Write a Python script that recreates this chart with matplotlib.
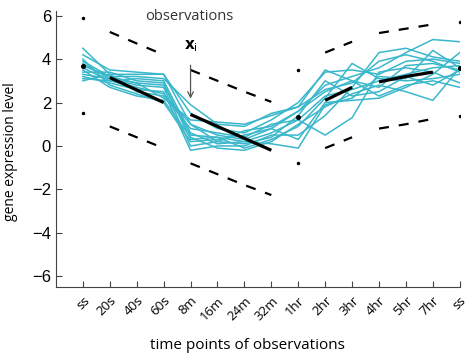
import matplotlib
matplotlib.use("Agg")
import matplotlib.pyplot as plt
import numpy as np

plt.rcParams["font.family"] = "Open Sans"

# time points
labels = ['ss', '20s', '40s', '60s', '8m', '16m', '24m', '32m',
          '1hr', '2hr', '3hr', '4hr', '5hr', '7hr', 'ss']
x = np.arange(len(labels))

# observed profiles (one row per gene)
obs = [
    [4.5, 3.3, 3.3, 3.3, 1.0, 0.5, 0.3, 0.8, 1.6, 2.8, 3.2, 3.6, 4.3, 4.9, 4.8],
    [4.2, 3.5, 3.4, 3.3, 1.5, 0.8, 0.6, 1.2, 2.0, 3.4, 3.5, 3.3, 3.9, 4.0, 3.8],
    [3.9, 3.2, 3.2, 3.1, 1.9, 1.0, 0.9, 1.5, 1.8, 2.6, 2.9, 3.9, 4.2, 3.9, 3.4],
    [3.6, 3.0, 3.1, 3.0, 0.6, 0.1, 0.2, 0.6, 1.2, 2.3, 2.6, 3.0, 3.3, 3.6, 3.7],
    [3.4, 3.4, 3.0, 2.9, 0.3, 0.4, -0.1, 0.3, 0.9, 2.2, 3.8, 3.1, 3.0, 3.1, 3.3],
    [3.3, 3.1, 2.8, 2.7, 0.0, 0.2, 0.1, 0.4, 1.4, 3.0, 2.3, 2.5, 3.2, 2.8, 3.5],
    [3.2, 2.9, 2.6, 2.5, -0.2, 0.0, 0.0, 0.5, 0.5, 1.4, 2.7, 4.3, 4.5, 4.1, 3.9],
    [3.0, 3.3, 2.5, 2.3, 0.8, 0.6, 0.4, 1.0, 1.2, 0.5, 1.3, 3.4, 3.6, 3.4, 2.9],
    [3.5, 2.7, 2.3, 2.1, 0.4, -0.1, -0.2, 0.2, 1.0, 1.8, 2.4, 2.8, 2.5, 2.1, 3.6],
    [3.7, 3.2, 2.9, 2.2, 1.2, 1.1, 1.0, 1.4, 1.8, 3.5, 3.0, 2.3, 2.8, 3.0, 2.7],
    [4.0, 2.8, 2.4, 2.0, 0.2, 0.3, 0.5, 0.8, 0.3, 2.0, 2.1, 2.2, 2.7, 3.3, 4.3],
    [3.1, 3.0, 2.7, 2.4, 1.0, 0.2, 0.7, 0.9, 1.6, 2.5, 3.0, 2.7, 3.7, 3.8, 3.5],
    [3.8, 3.1, 2.9, 2.8, 0.5, 0.4, 0.2, 0.1, -0.1, 1.9, 2.2, 3.2, 3.1, 4.4, 3.6],
]

# segments of the model (index ranges)
segments = [(0, 0), (1, 3), (4, 7), (8, 8), (9, 10), (11, 13), (14, 14)]
mean = [3.7, 3.15, 2.58, 2.0, 1.45, 0.9, 0.35, -0.2,
        1.35, 2.1, 2.7, 2.95, 3.2, 3.4, 3.6]
upper = [5.9, 5.25, 4.72, 4.2, 3.5, 3.0, 2.5, 2.03,
         3.5, 4.3, 4.8, 5.2, 5.4, 5.6, 5.7]
lower = [1.5, 0.9, 0.4, -0.1, -0.8, -1.3, -1.8, -2.26,
         -0.8, -0.1, 0.4, 0.8, 1.0, 1.25, 1.4]

fig = plt.figure(figsize=(4.74, 3.54), dpi=100)
ax = fig.add_axes([0.118, 0.189, 0.852, 0.779])

for row in obs:
    ax.plot(x, row, color='#3ab7cb', lw=1.1)

for a, b in segments:
    xs = x[a:b + 1]
    if a == b:
        ax.plot(xs, mean[a:b + 1], 'o', color='black', ms=2.6)
        ax.plot(xs, upper[a:b + 1], 'o', color='black', ms=1.5)
        ax.plot(xs, lower[a:b + 1], 'o', color='black', ms=1.5)
    else:
        ax.plot(xs, mean[a:b + 1], color='black', lw=2.3, solid_capstyle='butt')
        ax.plot(xs, upper[a:b + 1], color='black', lw=1.6, dashes=(4.5, 4.5))
        ax.plot(xs, lower[a:b + 1], color='black', lw=1.6, dashes=(4.5, 4.5))

# annotation
ax.annotate('', xy=(4, 2.05), xytext=(4, 3.85),
            arrowprops=dict(arrowstyle='->', color='#555555', lw=0.9))
ax.text(4, 4.6, r'$\mathbf{x}_{\mathsf{i}}$', ha='center', va='center', fontsize=11)
ax.text(3.95, 5.95, 'observations', ha='center', va='center', fontsize=10.5,
        color='#333333')

ax.set_xlim(-1, 14)
ax.set_ylim(-6.5, 6.2)
ax.set_yticks([-6, -4, -2, 0, 2, 4, 6])
ax.set_yticklabels(['\u22126', '\u22124', '\u22122', '0', '2', '4', '6'],
                   fontfamily='Liberation Sans', fontsize=12)
ax.set_xticks(x)
ax.set_xticklabels(labels, rotation=45, ha='right', rotation_mode='anchor',
                   fontsize=9.5)
ax.tick_params(direction='in', length=4, color='#444444')
ax.tick_params(axis='x', pad=5)
for s in ['top', 'right']:
    ax.spines[s].set_visible(False)
for s in ['left', 'bottom']:
    ax.spines[s].set_color('#444444')

ax.set_xlabel('time points of observations', fontsize=11)
ax.xaxis.set_label_coords(0.473, -0.185)
ax.set_ylabel('gene expression level', fontsize=10)
ax.yaxis.set_label_coords(-0.094, 0.49)

plt.savefig('out.png', dpi=100)
